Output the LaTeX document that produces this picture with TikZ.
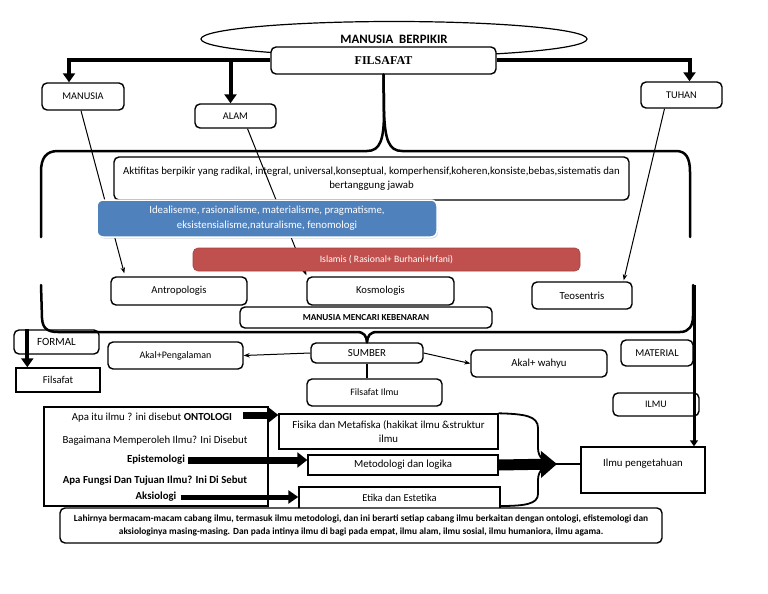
\documentclass[tikz,border=0pt]{standalone}
\usepackage{fontspec}
\setmainfont{Carlito}
\newfontfamily\timesfont{Liberation Serif}
\usepackage{xcolor}
\usetikzlibrary{positioning,arrows.meta,shapes.geometric,shadows}
\definecolor{boxblue}{HTML}{4F81BD}
\definecolor{boxred}{HTML}{C0504D}
\tikzset{
kecil/.style={font=\fontsize{10.3}{12}\selectfont},
sedang/.style={font=\fontsize{10.8}{14}\selectfont},
tebal/.style={font=\fontsize{10.8}{14}\selectfont\bfseries},
box/.style={draw, rounded corners=5pt, line width=1.4pt, fill=white, inner sep=1pt, align=center, sedang},
sqbox/.style={box, rounded corners=0pt},
fat arrow/.style={line width=4pt, -{Triangle[width=12pt,length=9pt]}},
thin arrow/.style={line width=1pt, -{Stealth[length=6pt,width=4.5pt]}},
brace/.style={line width=2.5pt, line cap=round},
}
\begin{document}
\begin{tikzpicture}[x=1pt,y=-1pt]
\useasboundingbox (0,0) rectangle (768,594);

% puncak
\node[draw, ellipse, line width=1.2pt, minimum width=386pt, minimum height=35pt, font=\fontsize{12.8}{14}\selectfont\bfseries] (berpikir) at (394,39) {MANUSIA\ \ BERPIKIR};
\node[box, minimum width=225pt, minimum height=27pt, font=\timesfont\bfseries\fontsize{12}{14}\selectfont] (filsafat) at (383.5,60.5) {FILSAFAT};
\node[box, kecil, minimum width=82pt, minimum height=27pt] (manusia) at (83,96.5) {MANUSIA};
\node[box, kecil, minimum width=81pt, minimum height=24pt] (alam) at (235.5,116) {ALAM};
\node[box, kecil, minimum width=81pt, minimum height=26pt] (tuhan) at (681.5,95) {TUHAN};
\draw[fat arrow] (filsafat.west) -| ([xshift=-14pt]manusia.north);
\draw[fat arrow] ([xshift=-5pt]filsafat.west -| alam.north) -- ([xshift=-5pt]alam.north);
\draw[fat arrow] (filsafat.east) -| ([xshift=8pt]tuhan.north);

% kurung besar
\draw[brace] (41,237) -- (41,172) .. controls (41,158) and (46,151) .. (58,151) -- (367,151)
  .. controls (380,151) and (384,140) .. (384,112) -- (filsafat.south);
\draw[brace] (filsafat.south) -- (384,112) .. controls (385,140) and (389,151) .. (402,151)
  -- (676,151) .. controls (686,151) and (690,158) .. (690,172) -- (690,237);

\node[box, minimum width=515pt, minimum height=43pt] (aktifitas) at (371.5,178.5)
  {Aktifitas berpikir yang radikal, integral, universal,konseptual, komperhensif,koheren,konsiste,bebas,sistematis dan\\bertanggung jawab};
\node[box, font=\fontsize{10.6}{14}\selectfont, minimum width=136pt, minimum height=28pt] (antro) at (179,291) {Antropologis};
\node[box, font=\fontsize{10.6}{14}\selectfont, minimum width=147pt, minimum height=28pt] (kosmo) at (380.5,291) {Kosmologis};
\node[box, minimum width=100pt, minimum height=27pt] (teo) at (582,295.5) {Teosentris};
\draw[thin arrow] ([xshift=-2pt]manusia.south) -- ([xshift=14pt,yshift=3pt]antro.north west);
\draw[thin arrow] ([xshift=12pt]alam.south) -- ([yshift=1pt]kosmo.north west);
\draw[thin arrow] ([xshift=-17pt]tuhan.south) -- ([xshift=-9pt,yshift=1pt]teo.north east);
\node[box, fill=boxblue, draw=white, line width=1.5pt, rounded corners=6pt, text=white, font=\fontsize{10.8}{15}\selectfont,
  drop shadow={opacity=0.3, shadow xshift=1pt, shadow yshift=-1.5pt}, minimum width=340pt, minimum height=37pt] (aliran) at (267,218.5)
  {Idealiseme, rasionalisme, materialisme, pragmatisme,\\eksistensialisme,naturalisme, fenomologi};
\node[box, fill=boxred, draw=boxred!85!black, line width=0.6pt, text=white, font=\fontsize{9.7}{12}\selectfont,
  minimum width=387pt, minimum height=23pt] (islamis) at (386.5,259.5) {Islamis ( Rasional+ Burhani+Irfani)};
\node[box, font=\fontsize{9.2}{12}\selectfont\bfseries, minimum width=252pt, minimum height=21pt] (mencari) at (366,317.5) {MANUSIA MENCARI KEBENARAN};

% sumber
\node[box, font=\fontsize{11}{12}\selectfont, minimum width=85pt, minimum height=24pt] (formal) at (56.5,342) {FORMAL};
\node[sqbox, font=\fontsize{10.5}{12}\selectfont, minimum width=84pt, minimum height=24pt] (filsafatb) at (58,380) {Filsafat};
\node[box, minimum width=112pt, minimum height=20pt] (sumber) at (367,353) {SUMBER};
\node[box, font=\fontsize{10}{12}\selectfont, minimum width=135pt, minimum height=27pt] (pengalaman) at (175.5,355.5) {Akal+Pengalaman};
\node[box, minimum width=136pt, minimum height=27pt] (wahyu) at (539,363.5) {Akal+ wahyu};
\node[box, font=\fontsize{10.5}{12}\selectfont, minimum width=72pt, minimum height=26pt] (material) at (657,353) {MATERIAL};
\node[box, font=\fontsize{9.8}{12}\selectfont, minimum width=135pt, minimum height=27pt] (filsilmu) at (374.5,392.5) {Filsafat Ilmu};
\node[box, font=\fontsize{10}{12}\selectfont, minimum width=86pt, minimum height=23pt] (ilmu) at (656,404.5) {ILMU};
\node[sqbox, minimum width=124pt, minimum height=46pt] (ilmupeng) at (643,470) {Ilmu pengetahuan\\\mbox{}};

\draw[brace] (41,285) -- (42,318) .. controls (42.5,328) and (47,332) .. (58,332) -- (357,332)
  .. controls (364,332) and (366.5,336) .. (sumber.north);
\draw[brace] (sumber.north) .. controls (367.5,336) and (370,332) .. (377,332)
  -- (680,332) .. controls (689,332) and (693,326) .. (693,316) -- (693,285);
\coordinate (kanan) at (694,285);
\draw[line width=3pt, -{Triangle[width=8pt,length=6pt]}] (kanan) -- (kanan |- ilmupeng.north);
\draw[fat arrow] ([xshift=14pt]formal.north west) -- ([xshift=12pt]filsafatb.north west);
\draw[thin arrow] (sumber.west) -- (pengalaman.east);
\draw[thin arrow] (sumber.east) -- (wahyu.west);
\draw[line width=2pt] (sumber.south) -- (sumber.south |- filsilmu.north);

% ontologi, epistemologi, aksiologi
\node[sqbox, minimum width=224pt, minimum height=99pt] (tanya) at (156,456.5) {};
\node[sedang, inner sep=1pt] (q1) at (152,418) {Apa itu ilmu ? ini disebut \textbf{ONTOLOGI}};
\node[sedang, inner sep=1pt] (q2) at (155,441) {Bagaimana Memperoleh Ilmu? Ini Disebut};
\node[tebal, inner sep=1pt] (q3) at (156,460) {Epistemologi};
\node[tebal, inner sep=1pt] (q4) at (155,481) {Apa Fungsi Dan Tujuan Ilmu? Ini Di Sebut};
\node[tebal, inner sep=1pt] (q5) at (156,497) {Aksiologi};
\node[sqbox, minimum width=219pt, minimum height=35pt] (fisika) at (388.5,431.5) {Fisika dan Metafiska (hakikat ilmu \&struktur\\ilmu};
\node[sqbox, minimum width=190pt, minimum height=20pt] (metod) at (403,465) {Metodologi dan logika};
\node[sqbox, font=\fontsize{10.5}{12}\selectfont, minimum width=201pt, minimum height=22pt] (etika) at (399.5,498) {Etika dan Estetika};
\draw[line width=7pt, -{Triangle[width=15pt,length=10pt]}] ([xshift=10pt,yshift=3pt]q1.east) -- ([yshift=3pt]q1.east -| fisika.west);
\draw[line width=7pt, -{Triangle[width=15pt,length=10pt]}] ([xshift=2pt]q3.east) -- (q3.east -| metod.west);
\draw[line width=5pt, -{Triangle[width=13pt,length=10pt]}] ([xshift=3pt]q5.east) -- (q5.east -| etika.west);

% kurung kanan
\coordinate (ujung) at (557,464);
\draw[line width=1.8pt] (fisika.north east) .. controls (525,414) and (538,416) .. (538,428) -- (538,448)
  .. controls (538,458) and (545,464) .. (ujung) .. controls (545,464) and (538,470) .. (538,480) -- (538,494)
  .. controls (538,504) and (525,506) .. (500,506);
\draw[line width=11pt, -{Triangle[width=26pt,length=16pt]}] (metod.east) -- (ujung);
\draw[line width=1.5pt] (ujung) -- (ujung -| ilmupeng.west);

% kesimpulan
\node[box, font=\fontsize{9.4}{13}\selectfont\bfseries, minimum width=602pt, minimum height=35pt] (lahir) at (361,525.5)
  {Lahirnya bermacam-macam cabang ilmu, termasuk ilmu metodologi, dan ini berarti setiap cabang ilmu berkaitan dengan ontologi, efistemologi dan\\aksiologinya masing-masing. Dan pada intinya ilmu di bagi pada empat, ilmu alam, ilmu sosial, ilmu humaniora, ilmu agama.};
\end{tikzpicture}
\end{document}
